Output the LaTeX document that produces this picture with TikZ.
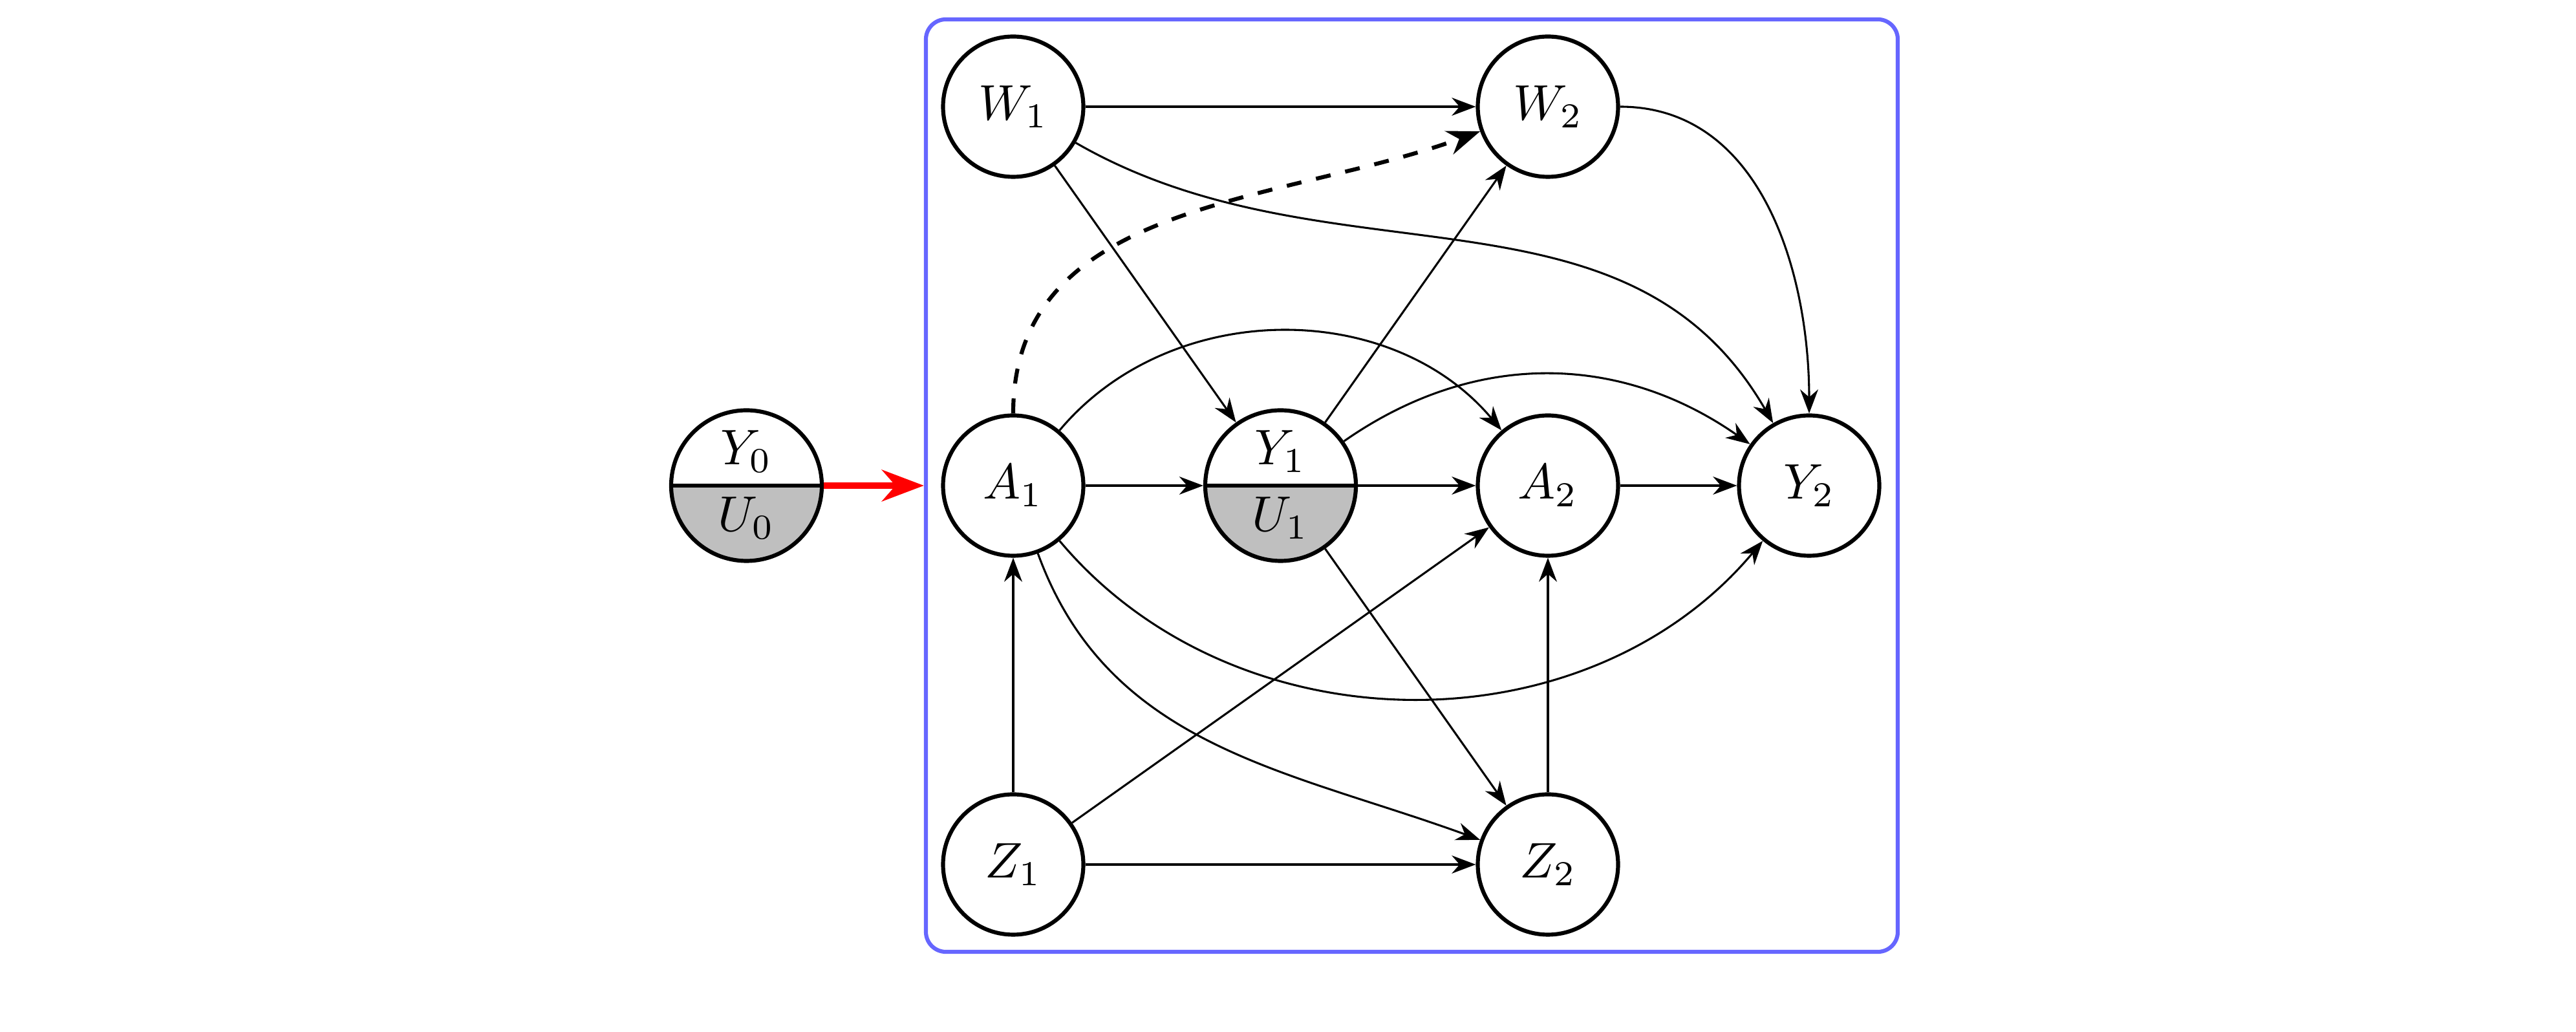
\documentclass[tikz,border=0pt]{standalone}
\usetikzlibrary{arrows.meta,calc}
\begin{document}
\begin{tikzpicture}[
  dag/.style={circle,draw,thick,fill=white,minimum size=0.9864cm,inner sep=0pt},
  splitn/.style={circle,draw,thick,minimum size=1.059cm,inner sep=0pt},
  halffill/.style={fill=gray!50},
  arr/.style={-Stealth},
  framebox/.style={draw=blue!60,thick,rounded corners=4pt,minimum width=6.832cm,minimum height=6.555cm,inner sep=0pt}
]
\useasboundingbox (0,0) rectangle (18.1091,7.2545);
% frame
\node[framebox] (box) at (9.925,3.8409) {};
% split-node half fills
\coordinate (y0c) at (5.2477,3.8409);
\coordinate (y1c) at (9.0023,3.8409);
\fill[halffill] ($(y0c)+(-0.5295cm,0)$) arc[start angle=180,end angle=360,radius=0.5295cm] -- cycle;
\fill[halffill] ($(y1c)+(-0.5295cm,0)$) arc[start angle=180,end angle=360,radius=0.5295cm] -- cycle;
% nodes
\node[splitn] (Y0) at (y0c) {};
\node[splitn] (Y1) at (y1c) {};
\draw[thick] (Y0.west) -- (Y0.east);
\draw[thick] (Y1.west) -- (Y1.east);
\node[anchor=base,inner sep=0pt] (Y0t) at (5.2477,3.9864) {$Y_0$};
\node[anchor=base,inner sep=0pt] (U0t) at (5.2477,3.5182) {$U_0$};
\node[anchor=base,inner sep=0pt] (Y1t) at (9.0023,3.9864) {$Y_1$};
\node[anchor=base,inner sep=0pt] (U1t) at (9.0023,3.5182) {$U_1$};
\node[dag] (W1) at (7.1227,6.5045) {$W_1$};
\node[dag] (W2) at (10.8818,6.5045) {$W_2$};
\node[dag] (A1) at (7.1227,3.8409) {$A_1$};
\node[dag] (A2) at (10.8818,3.8409) {$A_2$};
\node[dag] (Y2) at (12.7182,3.8409) {$Y_2$};
\node[dag] (Z1) at (7.1227,1.1773) {$Z_1$};
\node[dag] (Z2) at (10.8818,1.1773) {$Z_2$};
% red arrow
\draw[red,very thick,-Stealth] (Y0.east) -- (box.west);
% edges
\draw[arr] (W1) -- (W2);
\draw[arr] (W1) to[out=-30,in=120] (Y2);
\draw[arr] (W1) -- (Y1);
\draw[arr,thick,dashed] (A1) to[out=90,in=200] (W2);
\draw[arr] (A1) -- (Y1);
\draw[arr] (A1) to[out=50,in=130] (A2);
\draw[arr] (A1) to[out=-50,in=-130] (Y2);
\draw[arr] (A1) to[out=-70,in=160] (Z2);
\draw[arr] (Y1) -- (W2);
\draw[arr] (Y1) -- (A2);
\draw[arr] (Y1) to[out=35,in=145] (Y2);
\draw[arr] (Y1) -- (Z2);
\draw[arr] (Z1) -- (A1);
\draw[arr] (Z1) -- (A2);
\draw[arr] (Z1) -- (Z2);
\draw[arr] (Z2) -- (A2);
\draw[arr] (A2) -- (Y2);
\draw[arr] (W2) to[out=0,in=90] (Y2);
\end{tikzpicture}
\end{document}
